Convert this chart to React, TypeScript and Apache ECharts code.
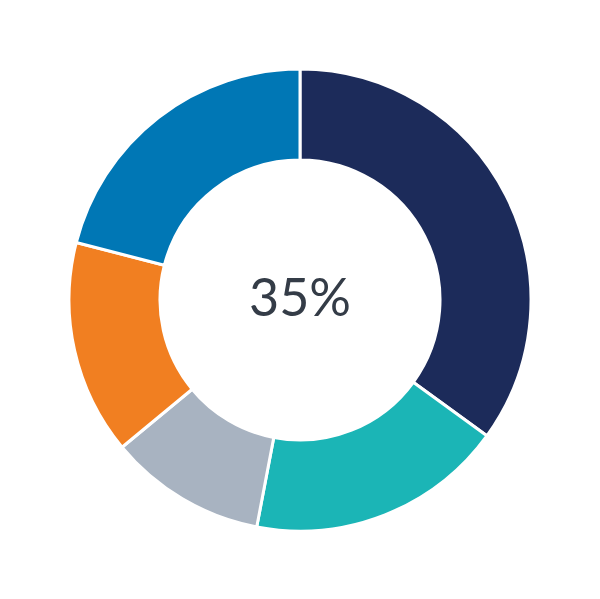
import React from 'react';
import * as echarts from 'echarts';

const categories = ['A', 'B', 'C', 'D', 'E'];
const values = [35, 18, 11, 15, 21];
const colors = ['#1c2b5a', '#1bb5b6', '#a8b3c1', '#f17f21', '#0077b5'];
const centerLabel = '35%';

export default function App() {
  const chartRef = React.useRef<HTMLDivElement>(null);

  React.useEffect(() => {
    if (!chartRef.current) return;
    const chart = echarts.init(chartRef.current, undefined, { renderer: 'svg' });

    const option: echarts.EChartsOption = {
      animation: false,
      backgroundColor: '#ffffff',
      graphic: [
        {
          type: 'text',
          x: 300,
          y: 296,
          style: {
            text: centerLabel,
            fontFamily: 'Lato',
            fontSize: 52,
            fontWeight: 'normal',
            fill: '#343c47',
            align: 'center',
            verticalAlign: 'middle',
          },
        },
      ],
      series: [
        {
          type: 'pie',
          center: [300, 300],
          radius: [140, 231],
          startAngle: 90,
          clockwise: true,
          label: { show: false },
          labelLine: { show: false },
          itemStyle: {
            borderColor: '#ffffff',
            borderWidth: 3,
          },
          data: categories.map((name, i) => ({
            name,
            value: values[i],
            itemStyle: { color: colors[i] },
          })),
        },
      ],
    };

    chart.setOption(option);
    return () => {
      chart.dispose();
    };
  }, []);

  return (
    <div
      ref={chartRef}
      style={{ position: 'fixed', left: 0, top: 0, width: '600px', height: '599px' }}
    />
  );
}
